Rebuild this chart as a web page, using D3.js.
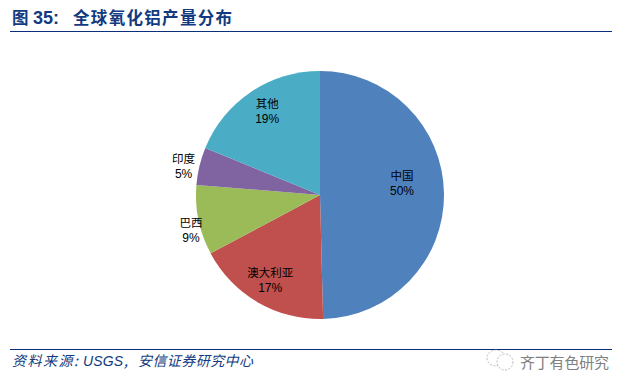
<!DOCTYPE html>
<html>
<head>
<meta charset="utf-8">
<script src="https://cdn.jsdelivr.net/npm/d3@7.9.0/dist/d3.min.js"></script>
<style>
    html, body { margin: 0; padding: 0; background: #fff; }
    svg { display: block; }
    .title { font-family: "Noto Sans CJK SC"; font-weight: 700; font-size: 16.5px; fill: #123a80; }
    .title-num { font-family: "Liberation Sans"; font-weight: 700; font-size: 18px; fill: #123a80; }
    .source { font-family: "Noto Sans CJK SC"; font-style: italic; font-size: 14px; fill: #123a80; }
    .source-en { font-family: "Liberation Sans"; font-style: italic; font-size: 14px; fill: #123a80; }
    .name { font-family: "Noto Sans CJK SC"; font-size: 11.5px; fill: #000; text-anchor: middle; }
    .pct { font-family: "Liberation Sans"; font-size: 12px; fill: #000; text-anchor: middle; }
    .brand { font-family: "Noto Sans CJK SC"; font-size: 15px; fill: #808080; }
</style>
</head>
<body>
<svg id="chart" width="629" height="388"></svg>
<script>
// Values (shares of world alumina output, %)
const categories = ["中国", "澳大利亚", "巴西", "印度", "其他"];
const shares = [49.6, 17.6, 9.1, 4.9, 18.8];
const percentLabels = ["50%", "17%", "9%", "5%", "19%"];
const sliceColors = ["#4f81bd", "#c0504d", "#9bbb59", "#8064a2", "#4bacc6"];

const svg = d3.select("#chart");
const navy = "#0b2f7a";

// Header and footer rules
svg.append("line").attr("x1", 10).attr("x2", 612).attr("y1", 31.5).attr("y2", 31.5)
    .attr("stroke", navy).attr("stroke-width", 1);
svg.append("line").attr("x1", 10).attr("x2", 612).attr("y1", 349.5).attr("y2", 349.5)
    .attr("stroke", navy).attr("stroke-width", 1);

// Title
svg.append("text").attr("class", "title").attr("x", 12).attr("y", 24).text("图");
svg.append("text").attr("class", "title-num").attr("x", 33).attr("y", 24).text("35:");
svg.append("text").attr("class", "title").attr("x", 73).attr("y", 24)
    .attr("textLength", 159).text("全球氧化铝产量分布");

// Source line
svg.append("text").attr("class", "source").attr("x", 12).attr("y", 366)
    .attr("textLength", 66).text("资料来源:");
svg.append("text").attr("class", "source-en").attr("x", 83).attr("y", 366)
    .attr("textLength", 40).text("USGS");
svg.append("text").attr("class", "source").attr("x", 124).attr("y", 366).text(",");
svg.append("text").attr("class", "source").attr("x", 138).attr("y", 366)
    .attr("textLength", 115).text("安信证券研究中心");

// Pie
const radius = 124;
const pieGroup = svg.append("g").attr("transform", "translate(320,195)");

const pie = d3.pie().sort(null).value(d => d);
const arcGenerator = d3.arc().innerRadius(0).outerRadius(radius);
const labelArc = d3.arc().innerRadius(radius * 0.75).outerRadius(radius * 0.75);
const arcData = pie(shares);

pieGroup.selectAll("path")
    .data(arcData)
    .enter()
    .append("path")
    .attr("d", arcGenerator)
    .attr("fill", (_, i) => sliceColors[i]);

// Excel moved the labels by hand, so each one gets a nudge from its centroid
const labelNudge = [[-11, -11], [-3, 5], [-38, 16], [-46, -7], [-1, -7]];

const labels = pieGroup.selectAll("g.label")
    .data(arcData)
    .enter()
    .append("g")
    .attr("class", "label")
    .attr("transform", (d, i) => {
        const [x, y] = labelArc.centroid(d);
        return `translate(${x + labelNudge[i][0]},${y + labelNudge[i][1]})`;
    });

labels.append("text").attr("class", "name").attr("y", -3).text((_, i) => categories[i]);
labels.append("text").attr("class", "pct").attr("y", 12).text((_, i) => percentLabels[i]);

// Watermark at the bottom right
const logo = svg.append("g").attr("fill", "#fff").attr("stroke", "#aaa")
    .attr("stroke-width", 0.8).attr("stroke-dasharray", "2,1.5");
logo.append("ellipse").attr("cx", 496).attr("cy", 358).attr("rx", 9).attr("ry", 8);
logo.append("ellipse").attr("cx", 505).attr("cy", 362).attr("rx", 8).attr("ry", 8);
svg.append("text").attr("class", "brand").attr("x", 520).attr("y", 368)
    .attr("textLength", 89).text("齐丁有色研究");
</script>
</body>
</html>
